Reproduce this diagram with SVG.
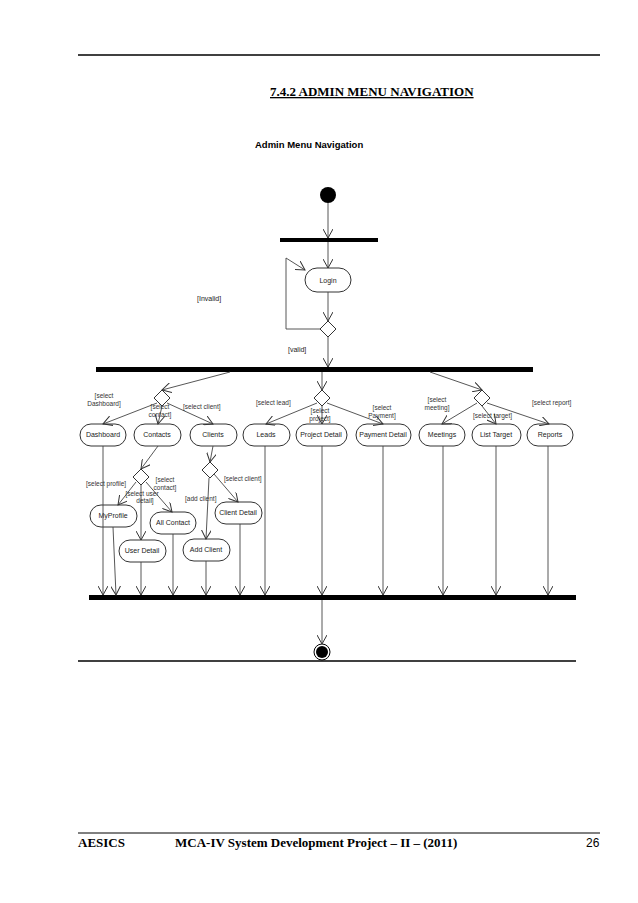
<svg xmlns="http://www.w3.org/2000/svg" width="638" height="903" viewBox="0 0 638 903">
<defs>
<marker id="a" markerWidth="10" markerHeight="10" refX="9" refY="5" orient="auto" markerUnits="userSpaceOnUse"><path d="M0,0 L9,5 L0,10" fill="none" stroke="#333" stroke-width="1"/></marker>
</defs>
<style>
.n{fill:#fff;stroke:#333;stroke-width:1}
.t{font-family:"Liberation Sans",Arial,sans-serif;font-size:7px;fill:#222}
.l{font-family:"Liberation Sans",Arial,sans-serif;font-size:6.5px;fill:#333}
.c{stroke:#444;stroke-width:0.9;fill:none;marker-end:url(#a)}
.p{font-family:"Liberation Serif","Times New Roman",serif;font-weight:bold;font-size:13px;fill:#000}
</style>
<rect width="638" height="903" fill="#fff"/>
<line x1="78" y1="55" x2="600" y2="55" stroke="#000" stroke-width="1.5"/>
<text class="p" x="270" y="96" text-decoration="underline" font-size="12">7.4.2 ADMIN MENU NAVIGATION</text>
<text x="255" y="148" font-family="Liberation Sans,Arial,sans-serif" font-weight="bold" font-size="9.5">Admin Menu Navigation</text>
<g id="bars">
<rect x="280" y="238" width="98" height="4" fill="#000"/>
<rect x="96" y="367" width="437" height="5" fill="#000"/>
<rect x="89" y="595" width="487" height="5" fill="#000"/>
</g>
<g id="start"><circle cx="328" cy="195" r="8" fill="#000"/></g>
<g id="end"><circle cx="322" cy="652" r="8" fill="#fff" stroke="#000"/><circle cx="322" cy="652" r="6" fill="#000"/></g>
<g id="login"><rect class="n" x="305" y="268" width="46" height="24" rx="12"/><text class="t" x="328" y="283" text-anchor="middle">Login</text></g>
<g id="diamonds" class="n">
<path d="M328,321 L336,329 L328,337 L320,329Z"/>
<path d="M162,390 L170,398 L162,406 L154,398Z"/>
<path d="M322,390 L330,398 L322,406 L314,398Z"/>
<path d="M482,390 L490,398 L482,406 L474,398Z"/>
<path d="M141,469 L149,477 L141,485 L133,477Z"/>
<path d="M210,462 L218,470 L210,478 L202,470Z"/>
</g>
<g id="nodes">
<g id="dashboard"><rect class="n" x="80" y="424" width="46" height="22" rx="11"/><text class="t" x="103" y="437" text-anchor="middle">Dashboard</text></g>
<g id="contacts"><rect class="n" x="134" y="424" width="47" height="22" rx="11"/><text class="t" x="157" y="437" text-anchor="middle">Contacts</text></g>
<g id="clients"><rect class="n" x="190" y="424" width="47" height="22" rx="11"/><text class="t" x="213" y="437" text-anchor="middle">Clients</text></g>
<g id="leads"><rect class="n" x="243" y="424" width="47" height="22" rx="11"/><text class="t" x="266" y="437" text-anchor="middle">Leads</text></g>
<g id="project"><rect class="n" x="296" y="424" width="51" height="22" rx="11"/><text class="t" x="321" y="437" text-anchor="middle">Project Detail</text></g>
<g id="payment"><rect class="n" x="356" y="424" width="55" height="22" rx="11"/><text class="t" x="383" y="437" text-anchor="middle">Payment Detail</text></g>
<g id="meetings"><rect class="n" x="419" y="424" width="46" height="22" rx="11"/><text class="t" x="442" y="437" text-anchor="middle">Meetings</text></g>
<g id="listtarget"><rect class="n" x="472" y="424" width="49" height="22" rx="11"/><text class="t" x="496" y="437" text-anchor="middle">List Target</text></g>
<g id="reports"><rect class="n" x="527" y="424" width="46" height="22" rx="11"/><text class="t" x="550" y="437" text-anchor="middle">Reports</text></g>
<g id="myprofile"><rect class="n" x="90" y="505" width="47" height="22" rx="11"/><text class="t" x="113" y="518" text-anchor="middle">MyProfile</text></g>
<g id="allcontact"><rect class="n" x="150" y="512" width="46" height="22" rx="11"/><text class="t" x="173" y="525" text-anchor="middle">All Contact</text></g>
<g id="userdetail"><rect class="n" x="119" y="540" width="47" height="22" rx="11"/><text class="t" x="142" y="553" text-anchor="middle">User Detail</text></g>
<g id="clientdetail"><rect class="n" x="215" y="502" width="47" height="22" rx="11"/><text class="t" x="238" y="515" text-anchor="middle">Client Detail</text></g>
<g id="addclient"><rect class="n" x="183" y="539" width="47" height="22" rx="11"/><text class="t" x="206" y="552" text-anchor="middle">Add Client</text></g>
</g>
<g id="connectors">
<line class="c" x1="328" y1="203" x2="328" y2="238"/>
<line class="c" x1="328" y1="242" x2="328" y2="268"/>
<line class="c" x1="328" y1="292" x2="328" y2="321"/>
<polyline class="c" points="320,329 286,329 286,258 305,270"/>
<line class="c" x1="328" y1="337" x2="328" y2="367"/>
<line class="c" x1="230" y1="372" x2="162" y2="390"/>
<line class="c" x1="322" y1="372" x2="322" y2="390"/>
<line class="c" x1="430" y1="372" x2="482" y2="390"/>
<line class="c" x1="157" y1="403" x2="103" y2="424"/>
<line class="c" x1="162" y1="406" x2="158" y2="424"/>
<line class="c" x1="167" y1="403" x2="213" y2="424"/>
<line class="c" x1="317" y1="403" x2="266" y2="424"/>
<line class="c" x1="322" y1="406" x2="322" y2="424"/>
<line class="c" x1="327" y1="403" x2="383" y2="424"/>
<line class="c" x1="477" y1="403" x2="442" y2="424"/>
<line class="c" x1="482" y1="406" x2="496" y2="424"/>
<line class="c" x1="487" y1="403" x2="549" y2="424"/>
<line class="c" x1="158" y1="446" x2="141" y2="469"/>
<line class="c" x1="136" y1="482" x2="118" y2="505"/>
<line class="c" x1="141" y1="485" x2="141" y2="540"/>
<line class="c" x1="146" y1="482" x2="172" y2="512"/>
<line class="c" x1="213" y1="446" x2="210" y2="462"/>
<line class="c" x1="209" y1="478" x2="206" y2="539"/>
<line class="c" x1="214" y1="474" x2="238" y2="502"/>
<line class="c" x1="103" y1="446" x2="103" y2="595"/>
<line class="c" x1="113" y1="527" x2="116" y2="595"/>
<line class="c" x1="141" y1="562" x2="141" y2="595"/>
<line class="c" x1="173" y1="534" x2="173" y2="595"/>
<line class="c" x1="206" y1="561" x2="206" y2="595"/>
<line class="c" x1="240" y1="524" x2="240" y2="595"/>
<line class="c" x1="265" y1="446" x2="265" y2="595"/>
<line class="c" x1="322" y1="446" x2="322" y2="595"/>
<line class="c" x1="383" y1="446" x2="383" y2="595"/>
<line class="c" x1="443" y1="446" x2="443" y2="595"/>
<line class="c" x1="496" y1="446" x2="496" y2="595"/>
<line class="c" x1="548" y1="446" x2="548" y2="595"/>
<line class="c" x1="322" y1="600" x2="322" y2="644"/>
</g>
<g id="labels">
<text class="t" x="197" y="301" font-size="8.5">[Invalid]</text>
<text class="t" x="288" y="352" font-size="8.5">[valid]</text>
<text class="l" x="104" y="398" text-anchor="middle">[select</text>
<text class="l" x="104" y="406" text-anchor="middle">Dashboard]</text>
<text class="l" x="160" y="409" text-anchor="middle">[select</text>
<text class="l" x="160" y="417" text-anchor="middle">contact]</text>
<text class="l" x="183" y="409">[select client]</text>
<text class="l" x="256" y="405">[select lead]</text>
<text class="l" x="320" y="413" text-anchor="middle">[select</text>
<text class="l" x="320" y="421" text-anchor="middle">project]</text>
<text class="l" x="382" y="410" text-anchor="middle">[select</text>
<text class="l" x="382" y="418" text-anchor="middle">Payment]</text>
<text class="l" x="437" y="402" text-anchor="middle">[select</text>
<text class="l" x="437" y="410" text-anchor="middle">meeting]</text>
<text class="l" x="473" y="418">[select target]</text>
<text class="l" x="532" y="405">[select report]</text>
<text class="l" x="86" y="486">[select profile]</text>
<text class="l" x="142" y="496" text-anchor="middle">[select user</text>
<text class="l" x="145" y="503" text-anchor="middle">detail]</text>
<text class="l" x="165" y="482" text-anchor="middle">[select</text>
<text class="l" x="165" y="490" text-anchor="middle">contact]</text>
<text class="l" x="224" y="481">[select client]</text>
<text class="l" x="185" y="501">[add client]</text>
</g>
<line x1="78" y1="661" x2="576" y2="661" stroke="#000" stroke-width="1.5"/>
<line x1="78" y1="833" x2="600" y2="833" stroke="#000" stroke-width="1"/>
<text class="p" x="78" y="847">AESICS</text>
<text class="p" x="175" y="847">MCA-IV System Development Project – II – (2011)</text>
<text x="586" y="847" font-family="Liberation Sans,Arial,sans-serif" font-size="12">26</text>
</svg>
